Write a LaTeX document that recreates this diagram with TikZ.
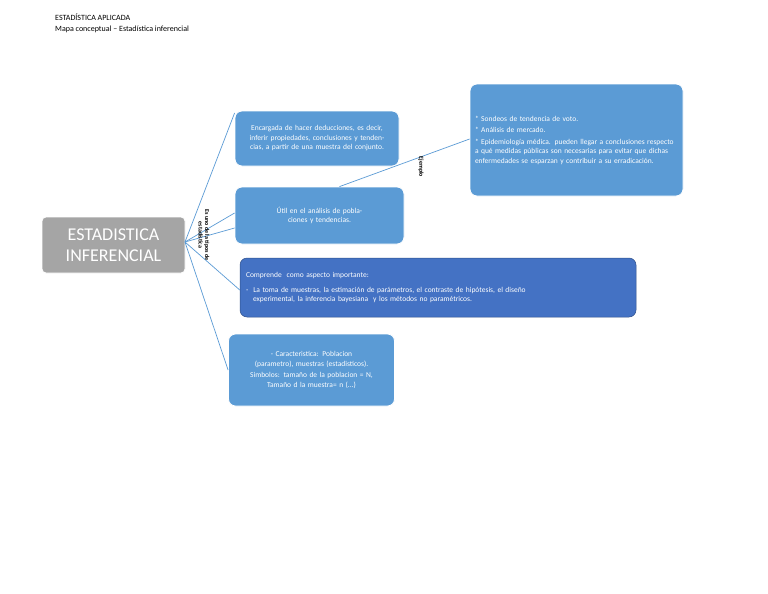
\documentclass[tikz,border=0pt]{standalone}
\usepackage{fontspec}
\setmainfont{Carlito}
\begin{document}
\begin{tikzpicture}[x=1pt,y=-1pt,
  bx/.style={draw=white, line width=0.8pt, rounded corners=7pt, fill=lb, text=white, inner sep=3pt, align=center, font=\fontsize{7.5}{9.5}\selectfont},
  ln/.style={draw=lb, line width=0.7pt},
  lab/.style={font=\fontsize{6}{6.5}\selectfont\bfseries, align=center, inner sep=0pt}]
\definecolor{lb}{HTML}{5B9BD5}
\definecolor{db}{HTML}{4472C4}
\definecolor{gr}{HTML}{A5A5A5}
\useasboundingbox (0,0) rectangle (768,594);
\fill[white] (0,0) rectangle (768,594);
\node[anchor=north west, inner sep=0pt, align=left, font=\fontsize{8}{11}\selectfont] (hdr) at (55,14) {ESTADÍSTICA APLICADA\\Mapa conceptual -- Estadística inferencial};
\node[bx, fill=gr, rounded corners=4pt, minimum width=143pt, minimum height=56pt, font=\fontsize{18}{21}\selectfont] (m) at (113.5,245) {ESTADISTICA\\INFERENCIAL};
\node[bx, minimum width=164pt, minimum height=55pt, text width=156pt] (b1) at (317,138.5) {Encargada de hacer deducciones, es decir, inferir propiedades, conclusiones y tendencias, a partir de una muestra del conjunto.};
\node[bx, minimum width=169pt, minimum height=57pt, text width=140pt] (b2) at (319.5,215.5) {Útil en el análisis de poblaciones y tendencias.};
\node[bx, minimum width=213pt, minimum height=112pt, text width=203pt, align=left] (b3) at (576.5,140) {* Sondeos de tendencia de voto.\\[2pt]* Análisis de mercado.\\[2pt]* Epidemiología médica. pueden llegar a conclusiones respecto a qué medidas públicas son necesarias para evitar que dichas enfermedades se esparzan y contribuir a su erradicación.};
\node[bx, fill=db, draw=db!70!black, line width=0.5pt, minimum width=396pt, minimum height=59pt, text width=384pt, align=left] (b4) at (438,287.5) {Comprende\ \ como aspecto importante:\\[5pt]-\ \ La toma de muestras, la estimación de parámetros, el contraste de hipótesis, el diseño\\\hspace*{7pt}experimental, la inferencia bayesiana\ \ y los métodos no paramétricos.};
\node[bx, minimum width=165pt, minimum height=72pt, text width=160pt] (b5) at (311.5,370) {- Caracteristica: Poblacion (parametro), muestras (estadisticos).\\[2pt]Simbolos: tamaño de la poblacion = N,\\Tamaño d la muestra= n (...)};
\coordinate (o) at (185,242);
\draw[ln] (o) -- (b1.west |- 0,113);
\draw[ln] (o) -- (b2.west |- 0,213);
\draw[ln] (o) -- (b2.west |- 0,228);
\draw[ln] (o) -- (b4.west |- 0,290);
\draw[ln] (o) -- (b5.west);
\draw[ln] (b2.north) ++(20,0) coordinate (e) -- (b3.west |- 0,139);
\node[lab, rotate=-90] (l1) at (204,235) {Es uno de la tipos de\\estadística};
\node[lab, rotate=-90] (l2) at (421,167) {Ejemplo};
\end{tikzpicture}
\end{document}
